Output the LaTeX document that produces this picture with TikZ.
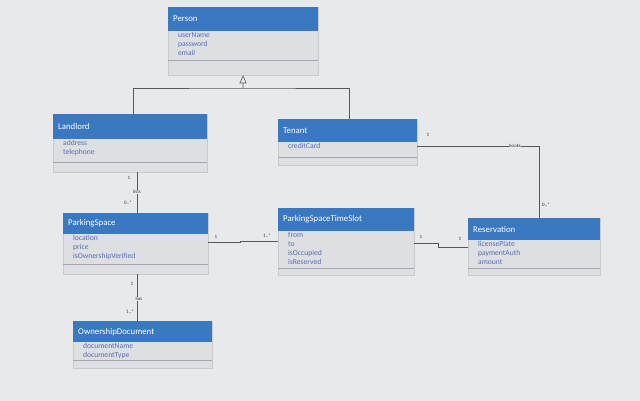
\documentclass[tikz,border=0pt]{standalone}
\usepackage{fontspec}
\setmainfont{Carlito}
\usetikzlibrary{arrows.meta,calc}
\definecolor{bg}{HTML}{E8E9EB}
\definecolor{hblue}{HTML}{3B78C2}
\definecolor{cbodyc}{HTML}{DDDFE2}
\definecolor{attrc}{HTML}{5A6DB0}
\definecolor{divc}{HTML}{A3A7AC}
\definecolor{linec}{HTML}{55595E}
\tikzset{
  cbody/.style={fill=cbodyc, draw=divc!60, line width=0.3pt, inner sep=0pt, anchor=north west},
  chead/.style={fill=hblue, inner sep=0pt, anchor=north west},
  htext/.style={text=white, font=\fontsize{8.8}{9}\selectfont, inner sep=0pt, anchor=west},
  attr/.style={text=attrc, font=\fontsize{7.6}{8.8}\selectfont, align=left, inner sep=0pt, anchor=north west},
  divline/.style={draw=divc, line width=0.5pt},
  conn/.style={draw=linec, line width=0.6pt},
  mult/.style={font=\fontsize{5}{5}\selectfont, text=black!80, inner sep=0.5pt},
  rolelab/.style={font=\fontsize{4.8}{5}\selectfont, text=black!80, fill=bg, inner sep=0.6pt}
}
\newcommand\umlclass[9]{%
  \node[cbody, minimum width=#4pt, minimum height=#6pt] (#1) at (#2,#3) {};
  \node[chead, minimum width=#4pt, minimum height=#5pt] (#1-h) at (#2,#3) {};
  \node[htext] (#1-t) at ([xshift=5pt]#1-h.west) {#7};
  \node[attr] (#1-a) at ([xshift=10pt,yshift=-1pt]#1-h.south west) {#8};
  \draw[divline] ([yshift=#9pt]#1.south west) -- ([yshift=#9pt]#1.south east);
}
\begin{document}
\begin{tikzpicture}[x=1pt,y=-1pt]
\fill[bg] (0,0) rectangle (640,401);
\useasboundingbox (0,0) rectangle (640,401);

\umlclass{person}{168}{7}{150}{24}{68}{Person}{userName\\password\\email}{15}
\umlclass{landlord}{53}{114}{154}{25}{58}{Landlord}{address\\telephone}{10}
\umlclass{tenant}{278}{119}{139}{23}{46}{Tenant}{creditCard}{8}
\umlclass{pspace}{63}{213}{145}{21}{61}{ParkingSpace}{location\\price\\isOwnershipVerified}{10}
\umlclass{psts}{278}{208}{136}{23}{67}{ParkingSpaceTimeSlot}{from\\to\\isOccupied\\isReserved}{7}
\umlclass{res}{468}{218}{132}{22}{57}{Reservation}{licensePlate\\paymentAuth\\amount}{7}
\umlclass{odoc}{73}{321}{139}{21}{47}{OwnershipDocument}{documentName\\documentType}{8}

% generalization
\coordinate (j) at (243,88);
\draw[conn, -{Triangle[open,width=7pt,length=8pt]}] (j) -- (person.south);
\draw[conn] ([xshift=3pt]landlord.north) |- (j) -| ([xshift=2pt]tenant.north);

% Tenant books Reservation
\draw[conn] ([yshift=-4pt]tenant-h.south east) -| ([xshift=5pt]res.north);
\node[mult] at (428,135) {1};
\node[rolelab] at (515,146) {books};
\node[mult] at (546,205) {0..*};

% Landlord lists ParkingSpace
\draw[conn] ([xshift=2pt]pspace.north) -- ([xshift=2pt]pspace.north |- landlord.south);
\node[mult] at (129,178) {1};
\node[rolelab] at (137,192) {lists};
\node[mult] at (128,203) {0..*};

% ParkingSpace has OwnershipDocument
\draw[conn] ([xshift=2pt]pspace.south) -- ([xshift=2pt]pspace.south |- odoc.north);
\node[mult] at (132,284) {1};
\node[rolelab] at (139,299) {has};
\node[mult] at (130,312) {1..*};

% ParkingSpace -- ParkingSpaceTimeSlot
\draw[conn] ([yshift=-8pt]pspace-h.south east) -- ++(32,0) |- ([yshift=-10pt]psts-h.south west);
\node[mult] at (216,237) {1};
\node[mult] at (267,236) {1..*};

% ParkingSpaceTimeSlot -- Reservation
\draw[conn] ([yshift=-12pt]psts-h.south east) -- ++(24,0) |- ([yshift=-7pt]res-h.south west);
\node[mult] at (421,237) {1};
\node[mult] at (460,239) {1};
\end{tikzpicture}
\end{document}
